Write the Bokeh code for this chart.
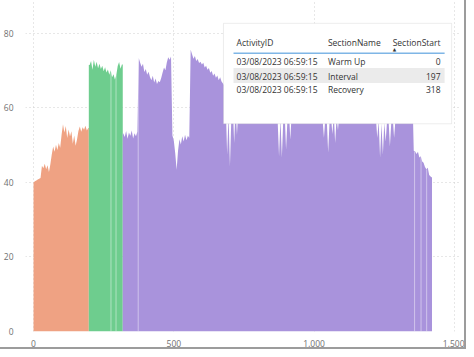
from bokeh.plotting import figure
from bokeh.models import Range1d, FixedTicker, NumeralTickFormatter, BoxAnnotation, ColumnDataSource
from bokeh.core.properties import value
from bokeh.embed import file_html
from bokeh.resources import INLINE

# ---- data -------------------------------------------------------------
seconds = list(range(0, 1425, 5))
hr = [
    40.0, 40.3, 40.5, 40.8, 41.0, 41.2, 44.5, 43.8, 45.0, 43.5,
    44.6, 42.8, 44.9, 47.5, 49.6, 48.2, 50.1, 48.7, 50.6, 49.3,
    52.8, 55.6, 53.4, 55.1, 51.9, 54.2, 52.3, 53.7, 50.4, 52.6,
    49.8, 51.5, 53.8, 55.0, 53.6, 54.8, 54.1, 55.2, 53.9, 54.6,
    71.5, 72.6, 70.2, 72.9, 71.0, 72.4, 70.6, 71.8, 70.4, 71.3,
    69.8, 70.9, 69.5, 70.3, 68.9, 70.1, 68.2, 69.0, 67.6, 68.8,
    71.2, 72.3, 70.5, 71.6, 53.1, 52.2, 53.8, 51.7, 53.4, 52.5,
    53.9, 51.8, 53.2, 52.4, 53.6, 73.4, 72.1, 71.0, 71.8, 69.6,
    70.4, 68.9, 69.7, 68.3, 67.4, 68.6, 66.8, 67.9, 66.4, 67.2,
    66.9, 68.0, 69.5, 70.8, 70.1, 72.2, 73.6, 72.9, 73.8, 52.6,
    51.2, 47.8, 43.4, 48.5, 51.6, 50.2, 52.4, 51.0, 52.8, 51.3,
    52.5, 52.0, 75.6, 74.4, 73.2, 73.9, 72.6, 73.1, 72.0, 72.4,
    71.6, 72.1, 70.8, 71.3, 70.2, 70.7, 69.4, 69.9, 68.6, 69.2,
    68.1, 68.7, 67.4, 68.2, 67.1, 66.5, 66.0, 60.5, 47.5, 58.0,
    44.3, 57.5, 61.0, 50.6, 60.2, 52.8, 59.8, 63.5, 64.2, 65.0,
    65.8, 64.9, 66.3, 65.4, 66.8, 65.7, 67.1, 66.0, 66.6, 65.9,
    66.4, 65.6, 66.9, 65.8, 66.2, 65.3, 66.7, 65.5, 66.0, 65.2,
    65.9, 64.8, 62.5, 58.0, 56.5, 47.0, 57.2, 46.7, 56.8, 58.5,
    48.8, 57.0, 59.5, 51.5, 58.4, 62.0, 64.5, 65.3, 64.6, 65.8,
    65.1, 66.2, 65.4, 66.5, 65.7, 66.0, 65.2, 66.3, 65.5, 66.1,
    65.4, 66.0, 65.1, 64.3, 62.0, 58.5, 57.0, 52.0, 57.5, 56.8,
    48.0, 56.5, 57.8, 53.0, 58.2, 50.6, 57.6, 54.0, 58.8, 62.5,
    64.8, 65.5, 64.9, 66.0, 65.3, 66.4, 65.6, 66.8, 65.9, 66.3,
    65.7, 66.5, 65.8, 66.9, 66.1, 65.4, 66.2, 65.5, 64.8, 63.6,
    62.0, 60.5, 58.0, 56.8, 57.3, 52.0, 56.5, 46.7, 55.8, 47.5,
    56.0, 51.0, 56.6, 57.1, 49.6, 56.2, 57.5, 52.0, 57.0, 58.5,
    61.0, 63.5, 64.8, 65.6, 64.9, 66.0, 65.2, 65.8, 64.7, 65.3,
    64.5, 48.5, 48.3, 47.6, 48.2, 46.7, 47.0, 45.6, 45.3, 44.1,
    43.5, 43.9, 42.0, 41.6, 41.3,
]
dropouts = [276, 294, 373, 1358, 1381, 1401]

activity_ids = ["03/08/2023 06:59:15", "03/08/2023 06:59:15", "03/08/2023 06:59:15"]
section_names = ["Warm Up", "Interval", "Recovery"]
section_starts = [0, 197, 318]
section_end = 1420
section_colors = ["#EFA283", "#6ECD8E", "#A993DC"]

x_ticks = [0, 500, 1000, 1500]
y_ticks = [0, 20, 40, 60, 80]

FONT = value("Open Sans")

# ---- figure -------------------------------------------------------------
p = figure(width=466, height=349,
           x_range=Range1d(-28.6, 1521.6), y_range=Range1d(0, 88.8),
           output_backend="svg", toolbar_location=None,
           min_border_left=25, min_border_right=6,
           min_border_top=0, min_border_bottom=14)
p.styles = {"border-right": "2px solid #9c9c9c", "border-bottom": "2px solid #9c9c9c"}
p.outline_line_color = None
p.background_fill_color = "white"
p.border_fill_color = "white"

# areas per section
for i, (start, color) in enumerate(zip(section_starts, section_colors)):
    last = i == len(section_starts) - 1
    end = section_end if last else section_starts[i + 1]
    pts = [(t, v) for t, v in zip(seconds, hr) if start <= t and (t <= end if last else t < end)]
    xs = [start] + [t for t, _ in pts] + ([] if last else [end])
    ys = [pts[0][1]] + [v for _, v in pts] + ([] if last else [pts[-1][1]])
    p.varea(x=xs, y1=[0] * len(xs), y2=ys, fill_color=color, fill_alpha=1.0)

# sensor dropouts (thin faint stripes)
drop_top = [hr[min(range(len(seconds)), key=lambda k: abs(seconds[k] - d))] for d in dropouts]
p.segment(x0=dropouts, y0=[0] * len(dropouts), x1=dropouts, y1=drop_top,
          line_color="white", line_alpha=0.45, line_width=1)

# axes & grid
for ax, ticks in ((p.xaxis, x_ticks), (p.yaxis, y_ticks)):
    ax.ticker = FixedTicker(ticks=ticks)
    ax.axis_line_color = None
    ax.major_tick_line_color = None
    ax.minor_tick_line_color = None
    ax.major_label_text_font = "Open Sans"
    ax.major_label_text_font_size = "8.5px"
    ax.major_label_text_color = "#707070"
p.xaxis.formatter = NumeralTickFormatter(format="0,0")
p.xaxis.major_label_standoff = 2
p.yaxis.major_label_standoff = 6

p.xgrid.ticker = FixedTicker(ticks=x_ticks)
p.ygrid.ticker = FixedTicker(ticks=y_ticks)
for g in (p.xgrid, p.ygrid):
    g.grid_line_color = "#cfcfcf"
    g.grid_line_dash = "1 3"
    g.grid_line_width = 1

# ---- table overlay ------------------------------------------------------
p.add_layout(BoxAnnotation(left=677, right=1490, bottom=55.73, top=82.67,
                           fill_color="white", fill_alpha=1.0,
                           line_color="#c4c4c4", line_width=1, level="annotation"))
p.add_layout(BoxAnnotation(left=712.7, right=1465, bottom=66.67, top=70.67,
                           fill_color="#ebebeb", fill_alpha=1.0,
                           line_color=None, level="annotation"))
p.segment(x0=[712.7], y0=[74.67], x1=[1465], y1=[74.67],
          line_color="#7fb6e6", line_width=1.5, level="overlay")

header_y = 77.6
row_y = [72.53, 68.53, 64.8]
hdr = ColumnDataSource(dict(x=[723.5, 1049], y=[header_y] * 2, t=["ActivityID", "SectionName"]))
p.text(x="x", y="y", text="t", source=hdr, text_font=FONT, text_font_size="8.5px",
       text_color="#333333", text_baseline="middle", text_align="left", level="overlay")
p.text(x=[1450.6], y=[header_y], text=["SectionStart"], text_font=FONT, text_font_size="8.5px",
       text_color="#333333", text_baseline="middle", text_align="right", level="overlay")
p.text(x=[1286], y=[75.6], text=["\u25b2"], text_font=value("DejaVu Sans"), text_font_size="4.5px",
       text_color="#333333", text_baseline="middle", text_align="center", level="overlay")

rows = ColumnDataSource(dict(
    y=row_y,
    aid=activity_ids,
    name=section_names,
    start=[str(s) for s in section_starts],
))
p.text(x=723.5, y="y", text="aid", source=rows, text_font=FONT, text_font_size="8.5px",
       text_color="#333333", text_baseline="middle", text_align="left", level="overlay")
p.text(x=1049, y="y", text="name", source=rows, text_font=FONT, text_font_size="8.5px",
       text_color="#333333", text_baseline="middle", text_align="left", level="overlay")
p.text(x=1450.6, y="y", text="start", source=rows, text_font=FONT, text_font_size="8.5px",
       text_color="#333333", text_baseline="middle", text_align="right", level="overlay")

open("out.html", "w").write(file_html(p, INLINE, title="Section chart"))
